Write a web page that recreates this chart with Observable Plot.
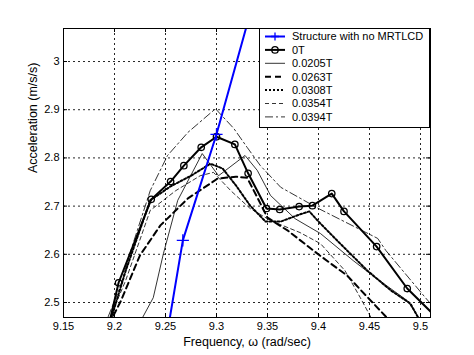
<!DOCTYPE html>
<html><head><meta charset="utf-8">
<script src="https://cdn.jsdelivr.net/npm/d3@7"></script>
<script src="https://cdn.jsdelivr.net/npm/@observablehq/plot@0.6"></script>
<style>
html,body{margin:0;padding:0;background:#fff;}
#chart svg{display:block;}
</style></head><body><div id="chart"></div>
<script>
// ---- data ----
const xTicks = [9.15, 9.2, 9.25, 9.3, 9.35, 9.4, 9.45, 9.5];
const yTicks = [2.5, 2.6, 2.7, 2.8, 2.9, 3];
const seriesNames = ["Structure with no MRTLCD", "0T", "0.0205T", "0.0263T", "0.0308T", "0.0354T", "0.0394T"];
const xLabel = "Frequency, \u03c9 (rad/sec)";
const yLabel = "Acceleration (m/s/s)";

const fNoDamper = [9.233, 9.267, 9.300, 9.333];
const aNoDamper = [2.200, 2.629, 2.849, 3.100];

const f0T = [9.193, 9.204, 9.236, 9.255, 9.268, 9.285, 9.300, 9.318, 9.331, 9.349, 9.362, 9.381, 9.394, 9.413, 9.425, 9.457, 9.487, 9.520];
const a0T = [2.440, 2.541, 2.714, 2.751, 2.784, 2.822, 2.844, 2.828, 2.768, 2.695, 2.693, 2.699, 2.701, 2.726, 2.689, 2.616, 2.529, 2.460];

const f0205 = [9.224, 9.238, 9.248, 9.262, 9.286, 9.302, 9.328, 9.340, 9.353, 9.377, 9.402, 9.434, 9.453, 9.487, 9.500];
const a0205 = [2.455, 2.510, 2.602, 2.712, 2.809, 2.763, 2.805, 2.774, 2.722, 2.674, 2.643, 2.587, 2.556, 2.504, 2.463];

const f0263 = [9.190, 9.206, 9.225, 9.245, 9.272, 9.301, 9.319, 9.330, 9.340, 9.350, 9.370, 9.401, 9.428, 9.465, 9.475];
const a0263 = [2.436, 2.502, 2.598, 2.660, 2.716, 2.757, 2.761, 2.759, 2.718, 2.676, 2.649, 2.598, 2.556, 2.473, 2.450];

const f0308 = [9.190, 9.211, 9.235, 9.255, 9.275, 9.294, 9.306, 9.319, 9.333, 9.348, 9.363, 9.382, 9.391, 9.400, 9.419, 9.448, 9.471, 9.490, 9.500];
const a0308 = [2.420, 2.566, 2.712, 2.741, 2.763, 2.788, 2.778, 2.743, 2.701, 2.668, 2.668, 2.683, 2.689, 2.668, 2.627, 2.566, 2.525, 2.498, 2.460];

const f0354 = [9.190, 9.211, 9.235, 9.260, 9.284, 9.297, 9.314, 9.333, 9.353, 9.382, 9.402, 9.426, 9.441, 9.455];
const a0354 = [2.440, 2.546, 2.691, 2.732, 2.763, 2.770, 2.732, 2.695, 2.670, 2.645, 2.622, 2.566, 2.510, 2.455];

const f0394 = [9.188, 9.206, 9.216, 9.235, 9.252, 9.272, 9.299, 9.317, 9.330, 9.343, 9.363, 9.400, 9.458, 9.466, 9.504, 9.515];
const a0394 = [2.440, 2.535, 2.608, 2.732, 2.805, 2.853, 2.902, 2.861, 2.822, 2.784, 2.739, 2.695, 2.633, 2.608, 2.512, 2.485];

// ---- table built from the arrays ----
const seriesData = [
  [fNoDamper, aNoDamper], [f0T, a0T], [f0205, a0205], [f0263, a0263],
  [f0308, a0308], [f0354, a0354], [f0394, a0394]
];
const rows = [];
seriesNames.forEach((name, k) => {
  const [fs, as] = seriesData[k];
  fs.forEach((f, i) => rows.push({series: name, f, a: as[i]}));
});

// ---- styles ----
const styles = {
  "Structure with no MRTLCD": {stroke: "#0000ff", strokeWidth: 2, dash: null},
  "0T":      {stroke: "#000", strokeWidth: 2, dash: null},
  "0.0205T": {stroke: "#000", strokeWidth: 0.8, dash: null},
  "0.0263T": {stroke: "#000", strokeWidth: 2, dash: "6,4"},
  "0.0308T": {stroke: "#000", strokeWidth: 2, dash: "2,2"},
  "0.0354T": {stroke: "#000", strokeWidth: 0.8, dash: "4,3"},
  "0.0394T": {stroke: "#000", strokeWidth: 0.8, dash: "8,3,2,3"}
};

const W = 474, H = 355, ML = 63, MR = 44, MT = 28, MB = 38;
const innerW = W - ML - MR, innerH = H - MT - MB;
const tickLen = 4;
const font = "'Liberation Sans', Arial, Helvetica, sans-serif";

const chart = Plot.plot({
  width: W, height: H,
  marginLeft: ML, marginRight: MR, marginTop: MT, marginBottom: MB,
  x: {domain: [9.15, 9.5098]},
  y: {domain: [2.4689, 3.0685]},
  style: {fontFamily: font, fontSize: "11px", color: "#000", background: "#fff"},
  marks: [
    Plot.gridX(xTicks, {stroke: "#000", strokeOpacity: 0.85, strokeDasharray: "2,3"}),
    Plot.gridY(yTicks, {stroke: "#000", strokeOpacity: 0.85, strokeDasharray: "2,3"}),
    ...seriesNames.slice(1).reverse().map(name => Plot.line(rows.filter(r => r.series === name), {
      x: "f", y: "a", stroke: styles[name].stroke, strokeWidth: styles[name].strokeWidth,
      strokeDasharray: styles[name].dash, clip: true
    })),
    Plot.dot(rows.filter(r => r.series === "0T"), {x: "f", y: "a", r: 3.2, stroke: "#000", strokeWidth: 1.3, fill: "none", clip: true}),
    Plot.line(rows.filter(r => r.series === seriesNames[0]), {x: "f", y: "a", stroke: "#0000ff", strokeWidth: 2, clip: true}),
    Plot.dot(rows.filter(r => r.series === seriesNames[0]), {x: "f", y: "a", symbol: "plus", r: 4, stroke: "#0000ff", strokeWidth: 1.3, clip: true}),
    Plot.tickX(xTicks, {x: d => d, stroke: "#000", insetTop: innerH - tickLen}),
    Plot.tickX(xTicks, {x: d => d, stroke: "#000", insetBottom: innerH - tickLen}),
    Plot.tickY(yTicks, {y: d => d, stroke: "#000", insetRight: innerW - tickLen}),
    Plot.tickY(yTicks, {y: d => d, stroke: "#000", insetLeft: innerW - tickLen}),
    Plot.frame({stroke: "#000", strokeWidth: 1}),
    Plot.axisX({ticks: xTicks, tickSize: 0, tickPadding: 5, tickFormat: d => String(d), label: null, fontSize: 11}),
    Plot.axisY({ticks: yTicks, tickSize: 0, tickPadding: 4, tickFormat: d => String(d), label: null, fontSize: 11}),
    Plot.text([xLabel], {text: d => d, frameAnchor: "bottom", dy: 24, lineAnchor: "middle", fontSize: 12.5, fill: "#000"}),
    Plot.text([yLabel], {text: d => d, frameAnchor: "left", dx: -31, rotate: -90, lineAnchor: "middle", fontSize: 12.5, fill: "#000"})
  ]
});

// ---- legend (inside the axes, top-right) ----
const svg = d3.select(chart);
const lg = svg.append("g").attr("font-family", font).attr("font-size", 11).attr("text-anchor", "start");
const lx0 = 259, ly0 = MT, lw = (W - MR) - lx0, lh = 99;
lg.append("rect").attr("x", lx0 + 0.5).attr("y", ly0 + 0.5).attr("width", lw - 1).attr("height", lh)
  .attr("fill", "#fff").attr("stroke", "#000").attr("stroke-width", 1);
seriesNames.forEach((name, i) => {
  const cy = ly0 + 8.5 + i * 13.4;
  const s = styles[name];
  lg.append("line").attr("x1", 265).attr("x2", 285).attr("y1", cy).attr("y2", cy)
    .attr("stroke", s.stroke).attr("stroke-width", s.strokeWidth)
    .attr("stroke-dasharray", s.dash);
  if (i === 0) {
    lg.append("path").attr("d", `M271,${cy}h8M275,${cy - 4}v8`).attr("stroke", "#0000ff").attr("stroke-width", 1.3);
  }
  if (i === 1) {
    lg.append("circle").attr("cx", 275).attr("cy", cy).attr("r", 3.2).attr("fill", "none").attr("stroke", "#000").attr("stroke-width", 1.3);
  }
  lg.append("text").attr("x", 292).attr("y", cy).attr("dy", "0.36em").attr("text-anchor", "start").attr("fill", "#000").text(name);
});

document.getElementById("chart").appendChild(chart);
</script>
</body></html>
